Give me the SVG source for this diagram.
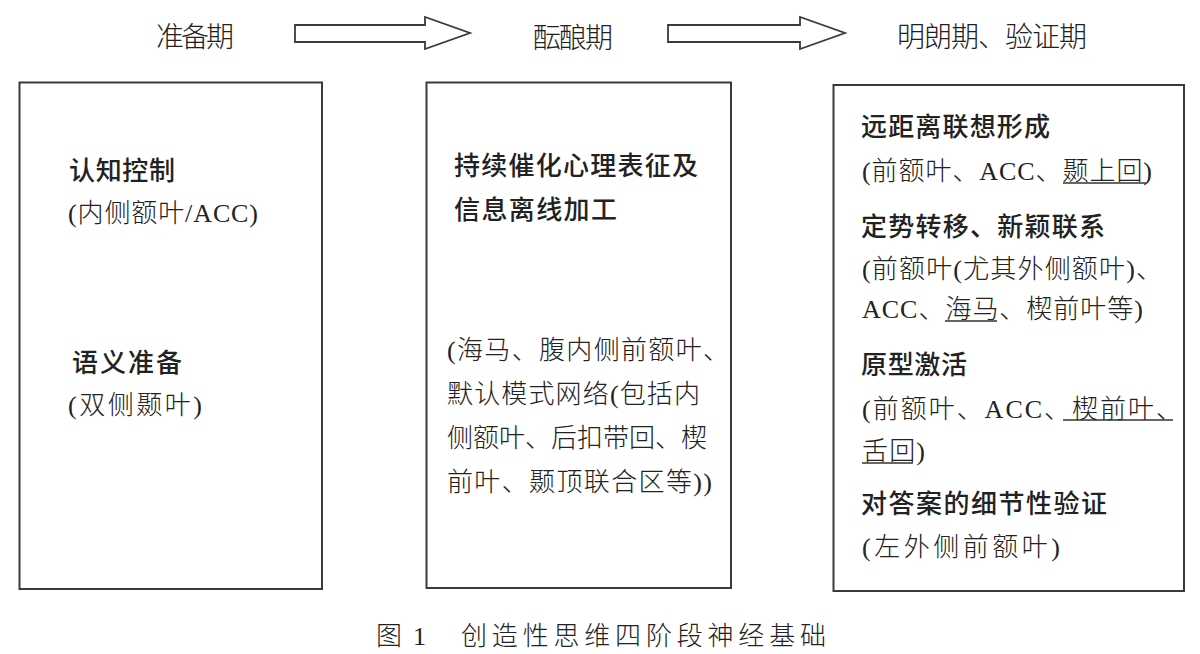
<svg xmlns="http://www.w3.org/2000/svg" width="1200" height="654" viewBox="0 0 1200 654">
<style>
.box{fill:#fff;stroke:#3a3a3a;stroke-width:2}
.arrow{fill:#fff;stroke:#3a3a3a;stroke-width:1.8;stroke-linejoin:miter}
.song{font-family:"Liberation Serif","Noto Sans CJK SC",serif;font-weight:300;fill:#222}
.hei{font-family:"Noto Sans CJK SC",sans-serif;font-weight:500;fill:#222}
.hdr{font-size:28px}
.t{font-size:26px}
.ul{stroke:#333;stroke-width:1.3}
</style>
<rect width="1200" height="654" fill="#fff"/>
<g id="connectors">
<polygon class="arrow" points="295,25 425,25 425,17 470,33 425,49 425,42 295,42"/>
<polygon class="arrow" points="668,25 800,25 800,17 845,33 800,49 800,42 668,42"/>
</g>
<g id="headers">
<text class="song hdr" x="156" y="47" textLength="78" lengthAdjust="spacing">准备期</text>
<text class="song hdr" x="533" y="48" textLength="80" lengthAdjust="spacing">酝酿期</text>
<text class="song hdr" x="897" y="47" textLength="190" lengthAdjust="spacing">明朗期、验证期</text>
</g>
<g id="prep">
<rect class="box" x="19.5" y="82.5" width="302.5" height="506.5"/>
<text class="hei t" x="69" y="180" textLength="106" lengthAdjust="spacing">认知控制</text>
<text class="song t" x="68" y="222" textLength="190" lengthAdjust="spacing">(内侧额叶/ACC)</text>
<text class="hei t" x="72" y="372" textLength="110" lengthAdjust="spacing">语义准备</text>
<text class="song t" x="68" y="414" textLength="134" lengthAdjust="spacing">(双侧颞叶)</text>
</g>
<g id="incubation">
<rect class="box" x="426.5" y="82.5" width="304.5" height="505.5"/>
<text class="hei t" x="454" y="175" textLength="244" lengthAdjust="spacing">持续催化心理表征及</text>
<text class="hei t" x="454" y="219" textLength="163" lengthAdjust="spacing">信息离线加工</text>
<text class="song t" x="447" y="359" textLength="282" lengthAdjust="spacing">(海马、腹内侧前额叶、</text>
<text class="song t" x="447" y="403" textLength="253" lengthAdjust="spacing">默认模式网络(包括内</text>
<text class="song t" x="447" y="447" textLength="260" lengthAdjust="spacing">侧额叶、后扣带回、楔</text>
<text class="song t" x="447" y="491" textLength="265" lengthAdjust="spacing">前叶、颞顶联合区等))</text>
</g>
<g id="illumination">
<rect class="box" x="833.5" y="85" width="350.5" height="506"/>
<text class="hei t" x="861" y="136" textLength="189" lengthAdjust="spacing">远距离联想形成</text>
<text class="song t" x="862" y="180" textLength="290" lengthAdjust="spacing">(前额叶、ACC、颞上回)</text>
<text class="hei t" x="861" y="236" textLength="244" lengthAdjust="spacing">定势转移、新颖联系</text>
<text class="song t" x="862" y="278" textLength="300" lengthAdjust="spacing">(前额叶(尤其外侧额叶)、</text>
<text class="song t" x="862" y="318" textLength="281" lengthAdjust="spacing">ACC、海马、楔前叶等)</text>
<text class="hei t" x="861" y="374" textLength="106" lengthAdjust="spacing">原型激活</text>
<text class="song t" x="862" y="418" textLength="320" lengthAdjust="spacing">(前额叶、ACC、楔前叶、</text>
<text class="song t" x="862" y="460" textLength="63" lengthAdjust="spacing">舌回)</text>
<text class="hei t" x="861" y="513" textLength="246" lengthAdjust="spacing">对答案的细节性验证</text>
<text class="song t" x="862" y="556" textLength="198" lengthAdjust="spacing">(左外侧前额叶)</text>
<line class="ul" x1="1063" y1="183" x2="1146" y2="183"/>
<line class="ul" x1="945" y1="321" x2="997" y2="321"/>
<line class="ul" x1="1063" y1="420" x2="1173" y2="420"/>
<line class="ul" x1="862" y1="463" x2="913" y2="463"/>
</g>
<g id="caption">
<text class="song" font-size="26" x="376" y="645" textLength="50" lengthAdjust="spacing">图 1</text>
<text class="song" font-size="26" x="461" y="645" textLength="365" lengthAdjust="spacing">创造性思维四阶段神经基础</text>
</g>
</svg>
